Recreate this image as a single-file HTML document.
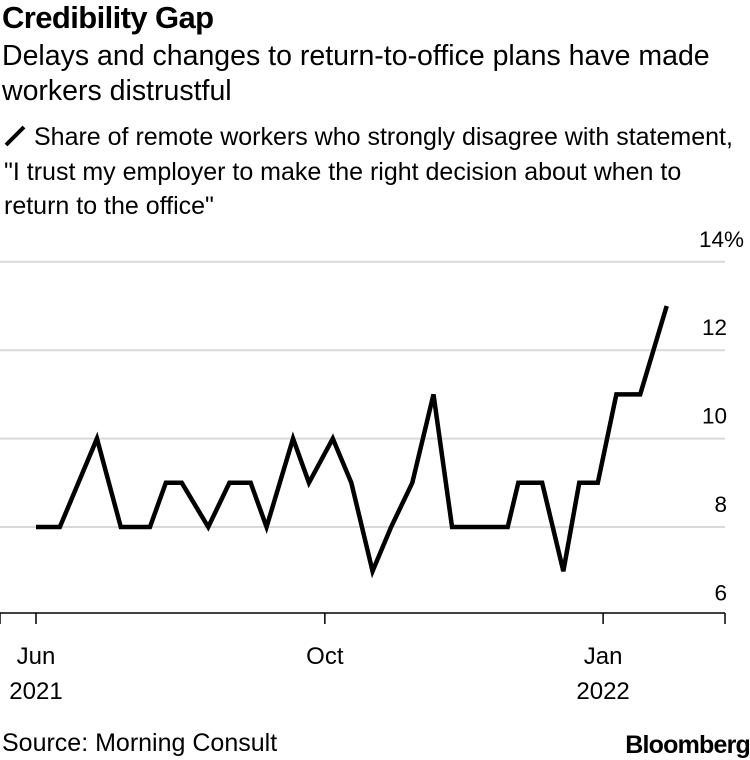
<!DOCTYPE html>
<html><head><meta charset="utf-8">
<style>
body{margin:0;width:750px;height:760px;background:#fff;font-family:"Liberation Sans",sans-serif;color:#000;overflow:hidden;position:relative}
.t{position:absolute;white-space:nowrap}
</style></head>
<body>
<div class="t" style="left:2px;top:0px;font-size:31px;font-weight:bold;letter-spacing:-0.6px">Credibility Gap</div>
<div class="t" style="left:2px;top:39px;font-size:28.5px;line-height:35px">Delays and changes to return-to-office plans have made<br>workers distrustful</div>
<div class="t" style="left:4px;top:120px;font-size:25px;line-height:34.5px">
<svg width="22" height="22" style="vertical-align:-2px;margin-right:8px"><line x1="2" y1="20" x2="20" y2="2" stroke="#000" stroke-width="4"/></svg>Share of remote workers who strongly disagree with statement,<br>"I trust my employer to make the right decision about when to<br>return to the office"</div>
<svg id="chart" width="750" height="760" style="position:absolute;left:0;top:0"></svg>
<div class="t" style="left:2px;top:729px;font-size:25px">Source: Morning Consult</div>
<div class="t" style="right:0px;top:731px;font-size:25px;font-weight:bold;letter-spacing:-0.8px">Bloomberg</div>
<script>
const dayOffsets=[0,9,16,23,32,43,49,55,65,73,81,87,97,103,112,119,127,134,142,150,157,165,171,178,182,191,199,205,212,219,228,238];
const shares=[8,8,9,10,8,8,9,9,8,9,9,8,10,9,10,9,7,8,9,11,8,8,8,8,9,9,7,9,9,11,11,13];
const yTicks=[6,8,10,12,14];
const yTickLabels=["6","8","10","12","14%"];
const xTickDays=[0,109,214];
const xTickLabels=[["Jun","2021"],["Oct",""],["Jan","2022"]];
const svg=document.getElementById('chart');
const NS="http://www.w3.org/2000/svg";
const x=d=>36+d*2.65;
const y=v=>527-(v-8)*44.2;
function mk(tag,attrs){const e=document.createElementNS(NS,tag);for(const k in attrs)e.setAttribute(k,attrs[k]);svg.appendChild(e);return e;}
yTicks.forEach((v,i)=>{
  if(v>6){const g=mk('line',{x1:0,x2:725,y1:y(v),y2:y(v),stroke:'#d9d9d9','stroke-width':2});
  
  }
  const t=mk('text',{x:v===14?699:727,y:y(v)-15,'font-size':22.5,'text-anchor':v===14?'start':'end','font-family':'Liberation Sans, sans-serif'});
  t.textContent=yTickLabels[i];
  
  
});
const ax=mk('line',{x1:0,x2:725,y1:613,y2:613,stroke:'#000','stroke-width':1.5});


xTickDays.forEach((d,i)=>{
  const tk=mk('line',{x1:x(d),x2:x(d),y1:613,y2:624,stroke:'#000','stroke-width':1.5});
  
  
  xTickLabels[i].forEach((s,j)=>{if(!s)return;
    const t=mk('text',{x:x(d),y:664+j*35,'font-size':24,'text-anchor':'middle','font-family':'Liberation Sans, sans-serif'});
    t.textContent=s;
    
    });
});
[0,725].forEach(px=>{const e=mk('line',{x1:px,x2:px,y1:613,y2:624,stroke:'#000','stroke-width':1.5});

});
const p=mk('polyline',{points:dayOffsets.map((d,i)=>x(d)+','+y(shares[i])).join(' '),fill:'none',stroke:'#000','stroke-width':4.5,'stroke-linejoin':'miter'});


</script>
</body></html>
